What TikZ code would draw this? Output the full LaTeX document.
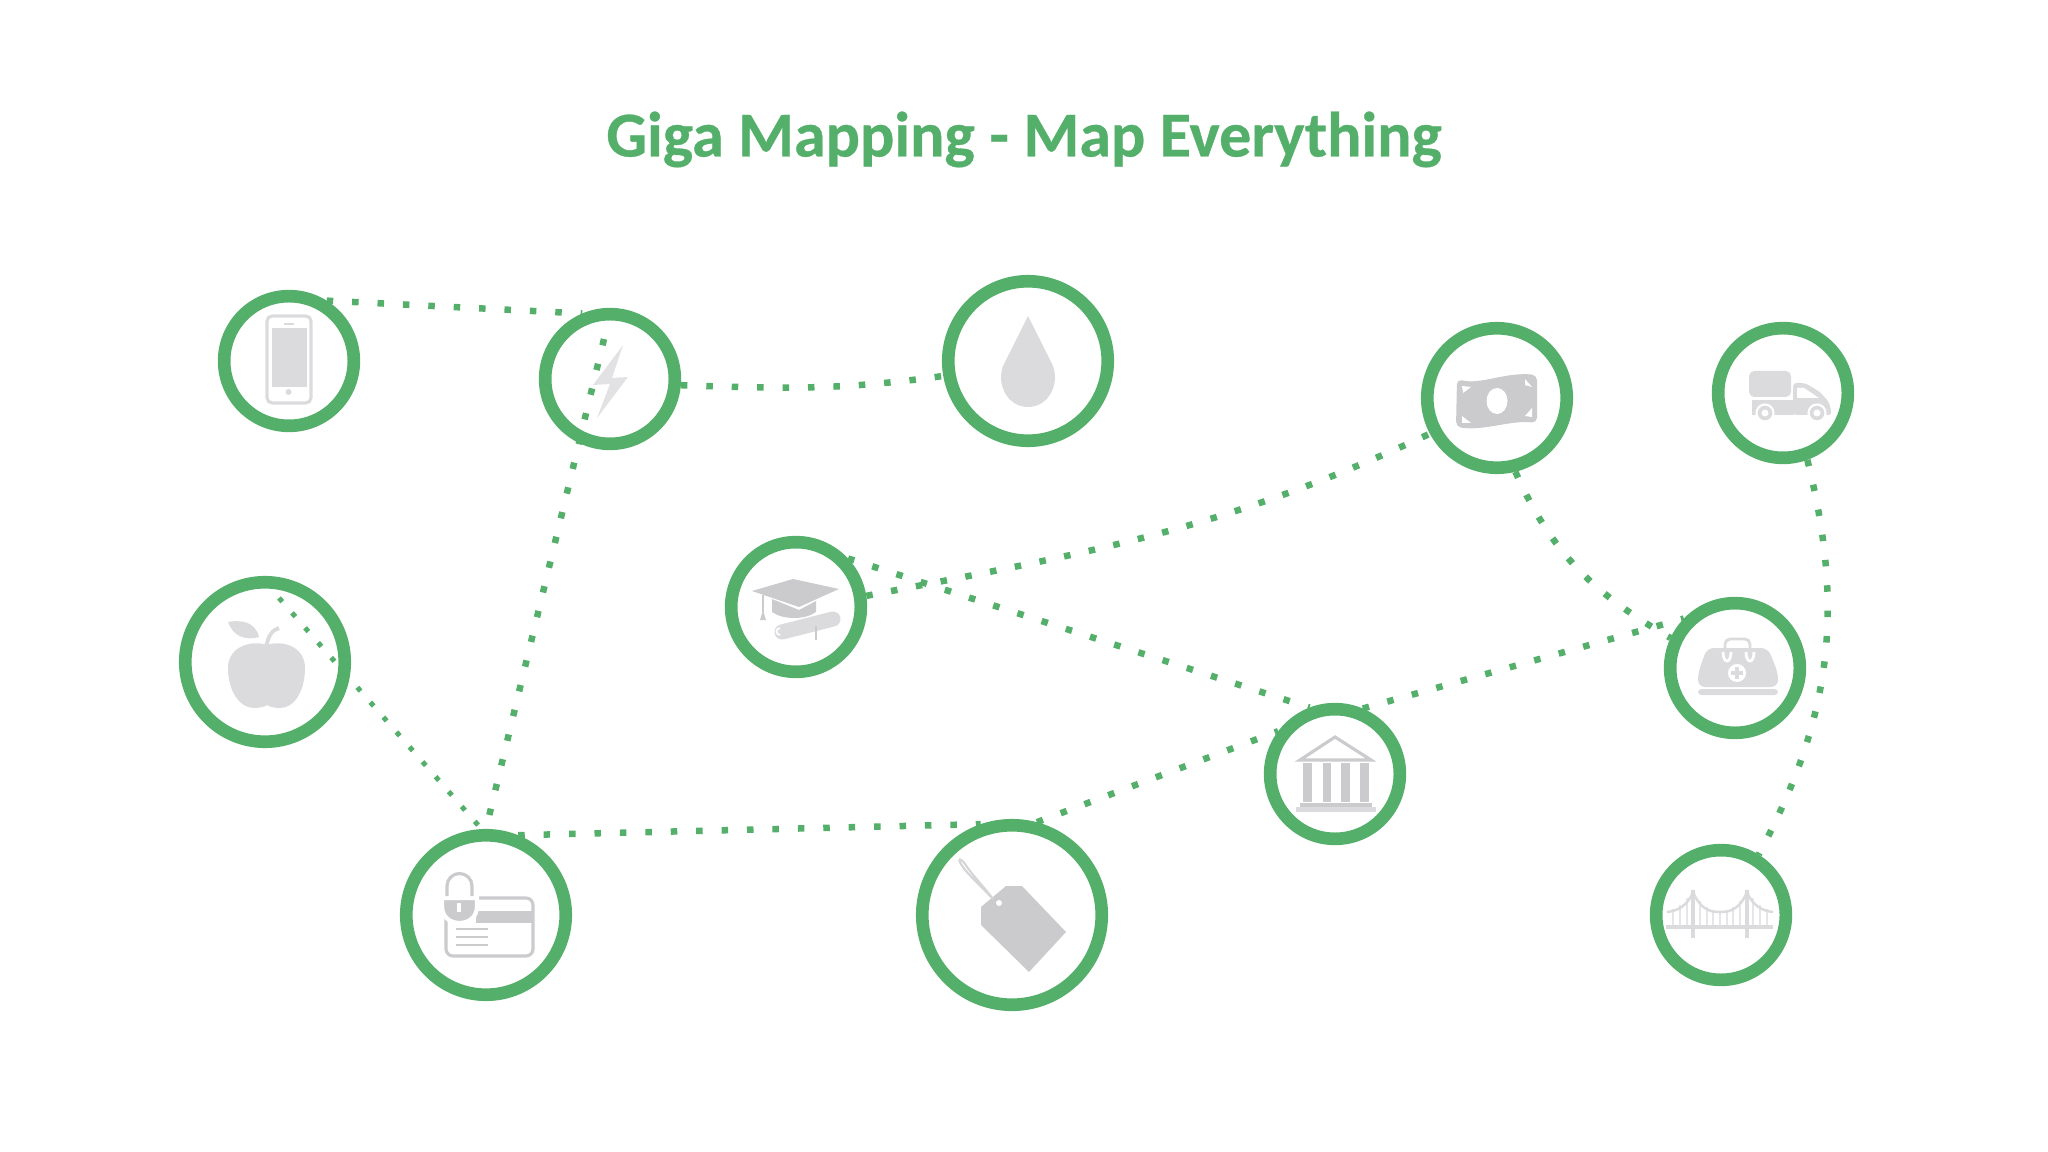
\documentclass[tikz,border=0pt]{standalone}
\usepackage{fontspec}
\setmainfont[BoldFeatures={FakeBold=0.5}]{Carlito}
\definecolor{ringgreen}{HTML}{54AF6A}
\definecolor{icongray}{HTML}{DBDADD}
\definecolor{icondark}{HTML}{CBCBCE}
\pgfdeclarelayer{icons}
\pgfdeclarelayer{links}
\pgfsetlayers{icons,links,main}

\begin{document}
\begin{tikzpicture}[x=0.01cm,y=0.01cm,
  ring/.style={circle,draw=ringgreen,line width=3.6pt,inner sep=0pt,minimum size=1.296cm},
  midring/.style={ring,minimum size=1.394cm},
  bigring/.style={ring,minimum size=1.594cm},
  hugering/.style={ring,minimum size=1.794cm},
  link/.style={draw=ringgreen,line width=1.85pt,dash pattern=on 1.85pt off 5.38pt},
  longlink/.style={link,dash pattern=on 1.85pt off 5.32pt},
  thinlink/.style={draw=ringgreen,line width=1.42pt,dash pattern=on 1.42pt off 4.21pt}]
  \useasboundingbox (0,0) rectangle (2048,-1152);
  \node[anchor=base,text=ringgreen] (title) at (1024,-156.5) {\fontsize{18.2pt}{22pt}\selectfont\bfseries Giga Mapping - Map Everything};

  \node[ring] (phone) at (289,-361) {};
  \node[ring] (bolt) at (610,-379) {};
  \node[bigring] (drop) at (1028,-361) {};
  \node[midring] (money) at (1497,-398) {};
  \node[ring] (truck) at (1783,-393) {};
  \node[ring] (hat) at (796,-607) {};
  \node[bigring] (apple) at (265,-662) {};
  \node[ring] (med) at (1735,-668) {};
  \node[ring] (bank) at (1335,-774) {};
  \node[bigring] (card) at (486,-915) {};
  \node[hugering] (tag) at (1012,-915) {};
  \node[ring] (bridge) at (1721,-915) {};
  \coordinate (boltin) at (604,-339);
  \coordinate (applein) at (279,-598);

  \begin{pgfonlayer}{links}
    \draw[link] (phone.58) -- (bolt.113);
    \draw[link] (boltin) -- (card.90);
    \draw[link] (bolt.-5) to [out=-2, in=188] (drop.190);
    \draw[longlink] (hat.9) to [out=11, in=205] (money.208);
    \draw[link] (hat.43) -- (bank.111);
    \draw[link] (card.68) -- (tag.109);
    \draw[link] (tag.75) -- (bank.143);
    \draw[link] (bank.67) -- (med.136);
    \draw[link] (money.-76) to [out=-66, in=150] (med.155);
    \draw[link] (truck.-70) to [out=-76, in=62] (bridge.58);
    \draw[thinlink] (applein) -- (card.93);
  \end{pgfonlayer}

  \begin{pgfonlayer}{icons}
    \draw[icongray,line width=0.9pt,rounded corners=1.5pt] (267,-316) rectangle (311,-403);
    \fill[icongray] (272,-328) rectangle (307,-387);
    \fill[icongray] (288.5,-392) circle [radius=3];
    \draw[icongray,line width=0.4pt] (284,-324) -- (294,-324);

    \fill[icongray!80] (623,-345) -- (593,-385) -- (610,-384) -- (597,-418) -- (628,-377) -- (612,-378) -- cycle;

    \fill[icongray] (1028,-316) -- (1003,-366) .. controls (996,-385) and (1008,-407) .. (1028,-407) .. controls (1048,-407) and (1060,-385) .. (1053,-366) -- cycle;

    \fill[icongray] (267,-645) .. controls (280,-640) and (305,-645) .. (305,-668) .. controls (305,-690) and (295,-708) .. (280,-708) .. controls (275,-708) and (270,-707) .. (267,-705) .. controls (264,-707) and (259,-708) .. (254,-708) .. controls (239,-708) and (228,-690) .. (228,-668) .. controls (228,-645) and (254,-640) .. (267,-645) -- cycle;
    \fill[icongray] (228,-622) .. controls (238,-620) and (255,-620) .. (259,-637) .. controls (245,-641) and (233,-636) .. (228,-622) -- cycle;
    \draw[icongray,line width=1.1pt] (266,-648) .. controls (268,-636) and (272,-630) .. (279,-628);

    \draw[icondark,line width=0.9pt,rounded corners=2pt] (446,-898) rectangle (533,-956);
    \fill[icondark] (476,-911) rectangle (533,-923);
    \draw[icondark,line width=0.6pt] (456,-929) -- (488,-929) (456,-937) -- (488,-937) (456,-945) -- (488,-945);
    \draw[white,line width=1.2pt,fill=icondark] (442,-898) -- (477,-898) -- (477,-906) .. controls (477,-918) and (468,-923) .. (459.5,-923) .. controls (451,-923) and (442,-918) .. (442,-906) -- cycle;
    \draw[icondark,line width=0.9pt] (447,-896) -- (447,-886) arc (180:0:12.5) -- (472,-896);
    \fill[white] (457,-903) rectangle (461,-912);

    \fill[icondark] (1006,-886) -- (1022,-886) -- (1066,-932) -- (1029,-972) -- (981,-925) -- (981,-907) -- cycle;
    \fill[white] (999,-903) circle [radius=3];
    \draw[icondark!80,line width=0.6pt] (993,-899) .. controls (980,-885) and (965,-872) .. (961,-864) .. controls (957,-858) and (961,-858) .. (965,-864) .. controls (972,-875) and (985,-888) .. (993,-899);

    \draw[icondark,line width=0.9pt] (1335,-737) -- (1300,-760) -- (1371,-760) -- cycle;
    \fill[icondark] (1303,-763) rectangle (1312,-802);
    \fill[icondark] (1323,-763) rectangle (1331,-802);
    \fill[icondark] (1341,-763) rectangle (1350,-802);
    \fill[icondark] (1360,-763) rectangle (1369,-802);
    \fill[icondark] (1300,-803) rectangle (1372,-807);
    \fill[icongray] (1296,-807) rectangle (1376,-812);

    \fill[icondark] (793,-579) -- (839,-589) -- (799,-607) -- (752,-591) -- cycle;
    \fill[icondark] (772,-599) -- (799,-610) -- (816,-601) -- (816,-612) .. controls (805,-620) and (783,-620) .. (772,-612) -- cycle;
    \draw[icondark,line width=0.8pt] (763,-595) -- (763,-612);
    \fill[icondark] (763,-610) -- (766,-620) -- (760,-620) -- cycle;
    \draw[icongray,line width=4.3pt,line cap=round] (782,-632) -- (833,-619);
    \draw[white,line width=0.5pt] (780,-628) arc (90:270:3.5);
    \draw[icondark,line width=0.6pt] (816,-626) -- (816,-640);

    \fill[icondark,rounded corners=1.5pt] (1457,-379) .. controls (1480,-385) and (1505,-372) .. (1537,-375) -- (1537,-423) .. controls (1510,-420) and (1485,-431) .. (1456,-427) -- cycle;
    \fill[white] (1497,-401) ellipse (10.5 and 13);
    \fill[white] (1462,-386) -- (1471,-387) -- (1463,-393) -- cycle;
    \fill[white] (1525,-379) -- (1532,-387) -- (1525,-385) -- cycle;
    \fill[white] (1462,-416) -- (1471,-423) -- (1462,-423) -- cycle;
    \fill[white] (1532,-408) -- (1525,-416) -- (1532,-417) -- cycle;

    \fill[icongray,rounded corners=1.5pt] (1749,-371) rectangle (1791,-397);
    \fill[icongray] (1752,-400) rectangle (1794,-415);
    \fill[icongray,rounded corners=1pt] (1793,-383) -- (1805,-383) -- (1820,-392) -- (1829,-402) -- (1832,-415) -- (1793,-415) -- cycle;
    \fill[white] (1797,-388) -- (1804,-388) -- (1819,-398) -- (1797,-398) -- cycle;
    \draw[white,line width=0.6pt,fill=icongray] (1765,-413) circle [radius=8.5];
    \draw[white,line width=0.6pt,fill=icongray] (1817,-413) circle [radius=8.5];
    \fill[white] (1765,-413) circle [radius=3.5];
    \fill[white] (1817,-413) circle [radius=3.5];

    \fill[icongray,rounded corners=2pt] (1707,-648) -- (1768,-648) -- (1778,-673) -- (1778,-687) -- (1698,-687) -- (1698,-673) -- cycle;
    \fill[icongray,rounded corners=1pt] (1698,-689) rectangle (1778,-695);
    \draw[icongray,line width=0.8pt,rounded corners=1.5pt] (1725,-648) -- (1725,-639) -- (1750,-639) -- (1750,-648);
    \draw[white,line width=0.8pt] (1723,-652) .. controls (1723,-664) and (1731,-664) .. (1731,-652);
    \draw[white,line width=0.8pt] (1746,-652) .. controls (1746,-664) and (1754,-664) .. (1754,-652);
    \fill[white] (1737,-673) circle [radius=9];
    \draw[icongray,line width=1pt] (1731,-673) -- (1743,-673) (1737,-667) -- (1737,-679);

    \draw[icongray!70,line width=0.4pt] (1673,-927) -- (1673,-909) (1680,-927) -- (1680,-905) (1687,-927) -- (1687,-898) (1700,-927) -- (1700,-901) (1707,-927) -- (1707,-907) (1713,-927) -- (1713,-911) (1720,-927) -- (1720,-912) (1727,-927) -- (1727,-911) (1733,-927) -- (1733,-907) (1740,-927) -- (1740,-901) (1753,-927) -- (1753,-898) (1760,-927) -- (1760,-905) (1767,-927) -- (1767,-909);
    \draw[icongray,line width=0.9pt] (1666,-927) -- (1773,-927);
    \draw[icongray,line width=1.1pt] (1693,-890) -- (1693,-938) (1747,-890) -- (1747,-938);
    \draw[icongray,line width=0.7pt] (1667,-912) .. controls (1678,-911) and (1688,-905) .. (1693,-892) .. controls (1700,-908) and (1708,-912) .. (1720,-912) .. controls (1732,-912) and (1740,-908) .. (1747,-892) .. controls (1752,-905) and (1762,-911) .. (1773,-912);
  \end{pgfonlayer}
\end{tikzpicture}
\end{document}
